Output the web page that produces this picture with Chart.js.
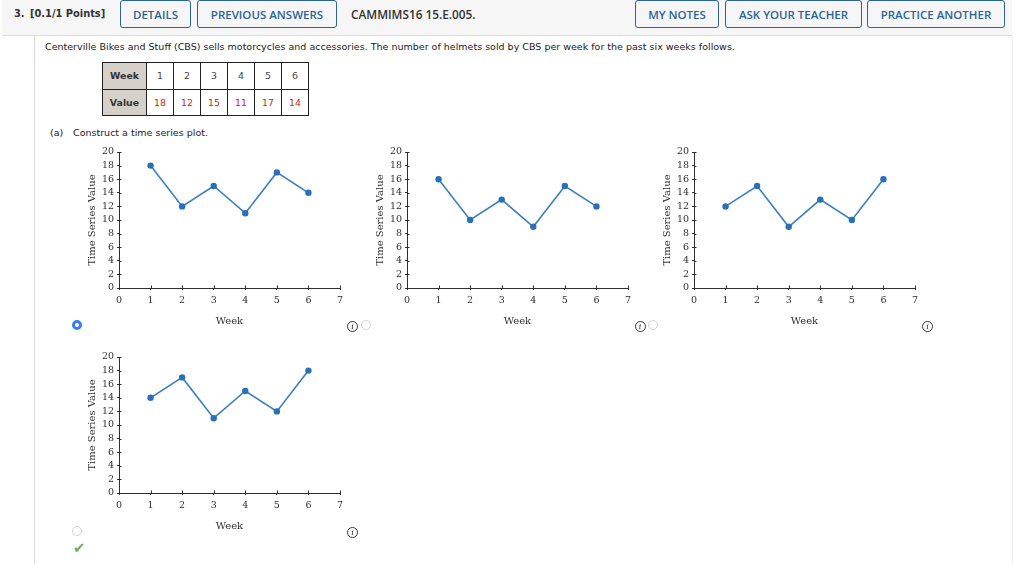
<!DOCTYPE html>
<html><head><meta charset="utf-8">
<script src="https://cdn.jsdelivr.net/npm/chart.js@4"></script>
<style>
html,body{margin:0;padding:0;background:#fff;width:1024px;height:564px;overflow:hidden;position:relative}
.a{position:absolute;white-space:nowrap}
#hdr{left:2px;top:0;width:1010px;height:36px;background:#f6f6f6;border-bottom:1px solid #dcdcdc;box-sizing:border-box}
#lft{left:34px;top:36px;width:1px;height:528px;background:#d8d8d8}
#rgt{left:1012px;top:36px;width:1px;height:528px;background:#ececec}
.btn{position:absolute;top:0;height:28px;box-sizing:border-box;border:1.2px solid #2c6496;border-radius:3px;background:#f6f6f6;color:#2c6496;font:600 11.5px "Open Sans";line-height:27px;text-align:center}
.hd{font:700 9.85px "DejaVu Sans";color:#333}
.bd{font:9.53px "DejaVu Sans";color:#222}
table{position:absolute;left:102px;top:62px;border-collapse:collapse;font:9.4px "DejaVu Sans"}
td{border:1px solid #222;width:27px;height:26.5px;padding:0;text-align:center;box-sizing:border-box;color:#444}
td.h{width:44px;background:#d5d1c9;font-weight:700;color:#333}
td.r{color:#c5281c}
canvas{position:absolute}
.info{position:absolute;width:11px;height:11px;border:1px solid #333;border-radius:50%;box-sizing:border-box;font:italic 8px "DejaVu Serif";line-height:9px;text-align:center;color:#222}
.rad{position:absolute;width:10px;height:10px;border:1px solid #d4d4d4;border-radius:50%;box-sizing:border-box;background:#fff}
.sel{border:3px solid #3b7df0}
.chk{position:absolute;font:700 15px "DejaVu Sans";color:#6fae5a}
</style></head><body>
<div class="a" id="hdr"></div><div class="a" id="lft"></div><div class="a" id="rgt"></div>
<div class="a hd" style="left:14px;top:8px">3.</div>
<div class="a hd" style="left:30px;top:8px">[0.1/1 Points]</div>
<div class="btn" style="left:120px;width:71px">DETAILS</div>
<div class="btn" style="left:197px;width:140px">PREVIOUS ANSWERS</div>
<div class="a" style="left:351px;top:6px;font:600 11.8px 'Open Sans';line-height:16px;color:#333">CAMMIMS16 15.E.005.</div>
<div class="btn" style="left:635px;width:84px">MY NOTES</div>
<div class="btn" style="left:725px;width:137px">ASK YOUR TEACHER</div>
<div class="btn" style="left:867px;width:138px">PRACTICE ANOTHER</div>
<div class="a bd" style="left:45px;top:41px">Centerville Bikes and Stuff (CBS) sells motorcycles and accessories. The number of helmets sold by CBS per week for the past six weeks follows.</div>
<table id="tb"></table>
<div class="a bd" style="left:50px;top:127px">(a)</div>
<div class="a bd" style="left:73px;top:127px">Construct a time series plot.</div>
<canvas id="c0"></canvas><canvas id="c1"></canvas><canvas id="c2"></canvas><canvas id="c3"></canvas>
<div class="rad sel" style="left:72px;top:320px"></div>
<div class="rad" style="left:360.5px;top:319.5px"></div>
<div class="rad" style="left:647.5px;top:319.5px"></div>
<div class="rad" style="left:72px;top:525.5px"></div>
<div class="info" style="left:347px;top:321px">i</div>
<div class="info" style="left:634.5px;top:321px">i</div>
<div class="info" style="left:922px;top:321px">i</div>
<div class="info" style="left:347px;top:527px">i</div>
<div class="chk" style="left:73px;top:539px">✔</div>
<script>
const weeks=[1,2,3,4,5,6];
const tableValues=[18,12,15,11,17,14];
const seriesA=[18,12,15,11,17,14];
const seriesB=[16,10,13,9,15,12];
const seriesC=[12,15,9,13,10,16];
const seriesD=[14,17,11,15,12,18];
const xLabel='Week', yLabel='Time Series Value';
const tb=document.getElementById('tb');
tb.innerHTML='<tr><td class="h">Week</td>'+weeks.map(w=>'<td>'+w+'</td>').join('')+'</tr><tr><td class="h">Value</td>'+tableValues.map(v=>'<td class="r">'+v+'</td>').join('')+'</tr>';
const ink='#2f2f2f';
const font={family:'"DejaVu Serif"',size:9.5};
const crossTicks={id:'crossTicks',afterDraw(c){
 const g=c.ctx,x=c.scales.x,y=c.scales.y;
 g.save();g.strokeStyle=ink;g.lineWidth=1;g.beginPath();
 for(let v=0;v<=20;v+=2){const p=Math.round(y.getPixelForValue(v))+.5;g.moveTo(x.left,p);g.lineTo(x.left+2.5,p);}
 for(let v=0;v<=7;v++){const p=Math.round(x.getPixelForValue(v))+.5;g.moveTo(p,y.bottom-2.5);g.lineTo(p,y.bottom);}
 g.stroke();g.restore();}};
function plot(id,data,left,top){
 const W=300,H=190,cv=document.getElementById(id);
 cv.style.left=(left-50)+'px';cv.style.top=(top-10)+'px';
 cv.style.width=W+'px';cv.style.height=H+'px';cv.width=W;cv.height=H;
 new Chart(cv,{type:'scatter',
  data:{datasets:[{data:weeks.map((w,i)=>({x:w,y:data[i]})),showLine:true,borderColor:'#3a7fc1',borderWidth:1.6,
    pointRadius:3.2,pointBackgroundColor:'#2a6fb8',pointBorderColor:'#2a6fb8',pointBorderWidth:0,tension:0}]},
  options:{responsive:false,animation:false,devicePixelRatio:1,
   layout:{padding:{top:10,right:W-50-221,left:17,bottom:5}},
   plugins:{legend:{display:false},tooltip:{enabled:false}},
   scales:{
    x:{type:'linear',min:0,max:7,
     afterFit(s){s.paddingLeft=0;s.paddingRight=0;s.height=39;},
     grid:{drawOnChartArea:false,color:ink,tickLength:2,lineWidth:1},border:{color:ink,width:1},
     ticks:{stepSize:1,autoSkip:false,maxRotation:0,color:ink,font,padding:5},
     title:{display:true,text:xLabel,color:ink,font:{family:font.family,size:10},padding:{top:6,bottom:0}}},
    y:{type:'linear',min:0,max:20,
     afterFit(s){s.width=33;},
     grid:{drawOnChartArea:false,color:ink,tickLength:2,lineWidth:1},border:{color:ink,width:1},
     ticks:{stepSize:2,autoSkip:false,color:ink,font,padding:3},
     title:{display:true,text:yLabel,color:ink,font:{family:font.family,size:10},padding:{top:0,bottom:3}}}
   }},
  plugins:[crossTicks]});
}
plot('c0',seriesA,119,152);
plot('c1',seriesB,407,152);
plot('c2',seriesC,694,152);
plot('c3',seriesD,119,357);
</script>
</body></html>
